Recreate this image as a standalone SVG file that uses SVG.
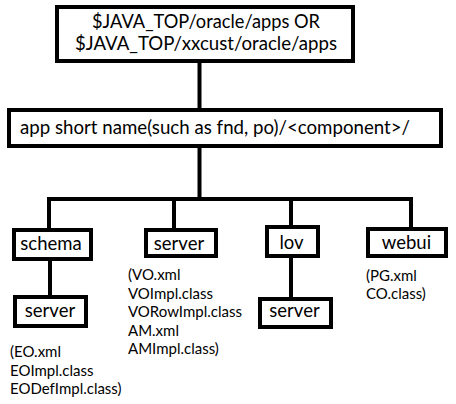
<svg xmlns="http://www.w3.org/2000/svg" width="456" height="404" viewBox="0 0 456 404">
<style>
.box{fill:#fff;stroke:#000;stroke-width:4}
.ln{stroke:#000;stroke-width:4;fill:none;stroke-linecap:square}
text{font-family:Lato,"Liberation Sans",sans-serif;fill:#000}
.lbl{font-size:18.5px;text-anchor:middle}
.big{font-size:18.5px}
.lst{font-size:15px}
</style>
<rect width="456" height="404" fill="#fff"/>
<g id="connectors">
<line class="ln" x1="199.5" y1="61" x2="199.5" y2="110"/>
<line class="ln" x1="199.5" y1="146" x2="199.5" y2="199"/>
<polyline class="ln" points="49,230 49,199 411,199 411,229"/>
<line class="ln" x1="174" y1="199" x2="174" y2="230"/>
<line class="ln" x1="291" y1="199" x2="291" y2="227"/>
<line class="ln" x1="50" y1="259" x2="50" y2="297"/>
<line class="ln" x1="291" y1="256" x2="291" y2="299"/>
</g>
<g id="root">
<rect class="box" x="57" y="7" width="296" height="54"/>
<text class="big" x="92" y="28" textLength="228" lengthAdjust="spacingAndGlyphs">$JAVA_TOP/oracle/apps OR</text>
<text class="big" x="75" y="50" textLength="262" lengthAdjust="spacingAndGlyphs">$JAVA_TOP/xxcust/oracle/apps</text>
</g>
<g id="app">
<rect class="box" x="9" y="110" width="432" height="36"/>
<text class="big" x="20" y="134" textLength="390" lengthAdjust="spacingAndGlyphs">app short name(such as fnd, po)/&lt;component&gt;/</text>
</g>
<g id="schema">
<rect class="box" x="14" y="230" width="77" height="29"/>
<text class="lbl" x="51" y="250">schema</text>
</g>
<g id="server1">
<rect class="box" x="146" y="230" width="70" height="26"/>
<text class="lbl" x="179" y="250">server</text>
</g>
<g id="lov">
<rect class="box" x="267" y="227" width="51" height="29"/>
<text class="lbl" x="291.5" y="249">lov</text>
</g>
<g id="webui">
<rect class="box" x="368" y="229" width="78" height="27"/>
<text class="lbl" x="406.5" y="249">webui</text>
</g>
<g id="schema-server">
<rect class="box" x="15" y="297" width="71" height="29"/>
<text class="lbl" x="50" y="317">server</text>
</g>
<g id="lov-server">
<rect class="box" x="260" y="299" width="71" height="28"/>
<text class="lbl" x="294.5" y="317">server</text>
</g>
<g id="server-files">
<text class="lst" x="128" y="280">(VO.xml</text>
<text class="lst" x="128" y="298.5">VOImpl.class</text>
<text class="lst" x="128" y="317">VORowImpl.class</text>
<text class="lst" x="128" y="335.5">AM.xml</text>
<text class="lst" x="128" y="354">AMImpl.class)</text>
</g>
<g id="schema-files">
<text class="lst" x="10" y="357">(EO.xml</text>
<text class="lst" x="10" y="375.5">EOImpl.class</text>
<text class="lst" x="10" y="394">EODefImpl.class)</text>
</g>
<g id="webui-files">
<text class="lst" x="366" y="281">(PG.xml</text>
<text class="lst" x="366" y="299">CO.class)</text>
</g>
</svg>
